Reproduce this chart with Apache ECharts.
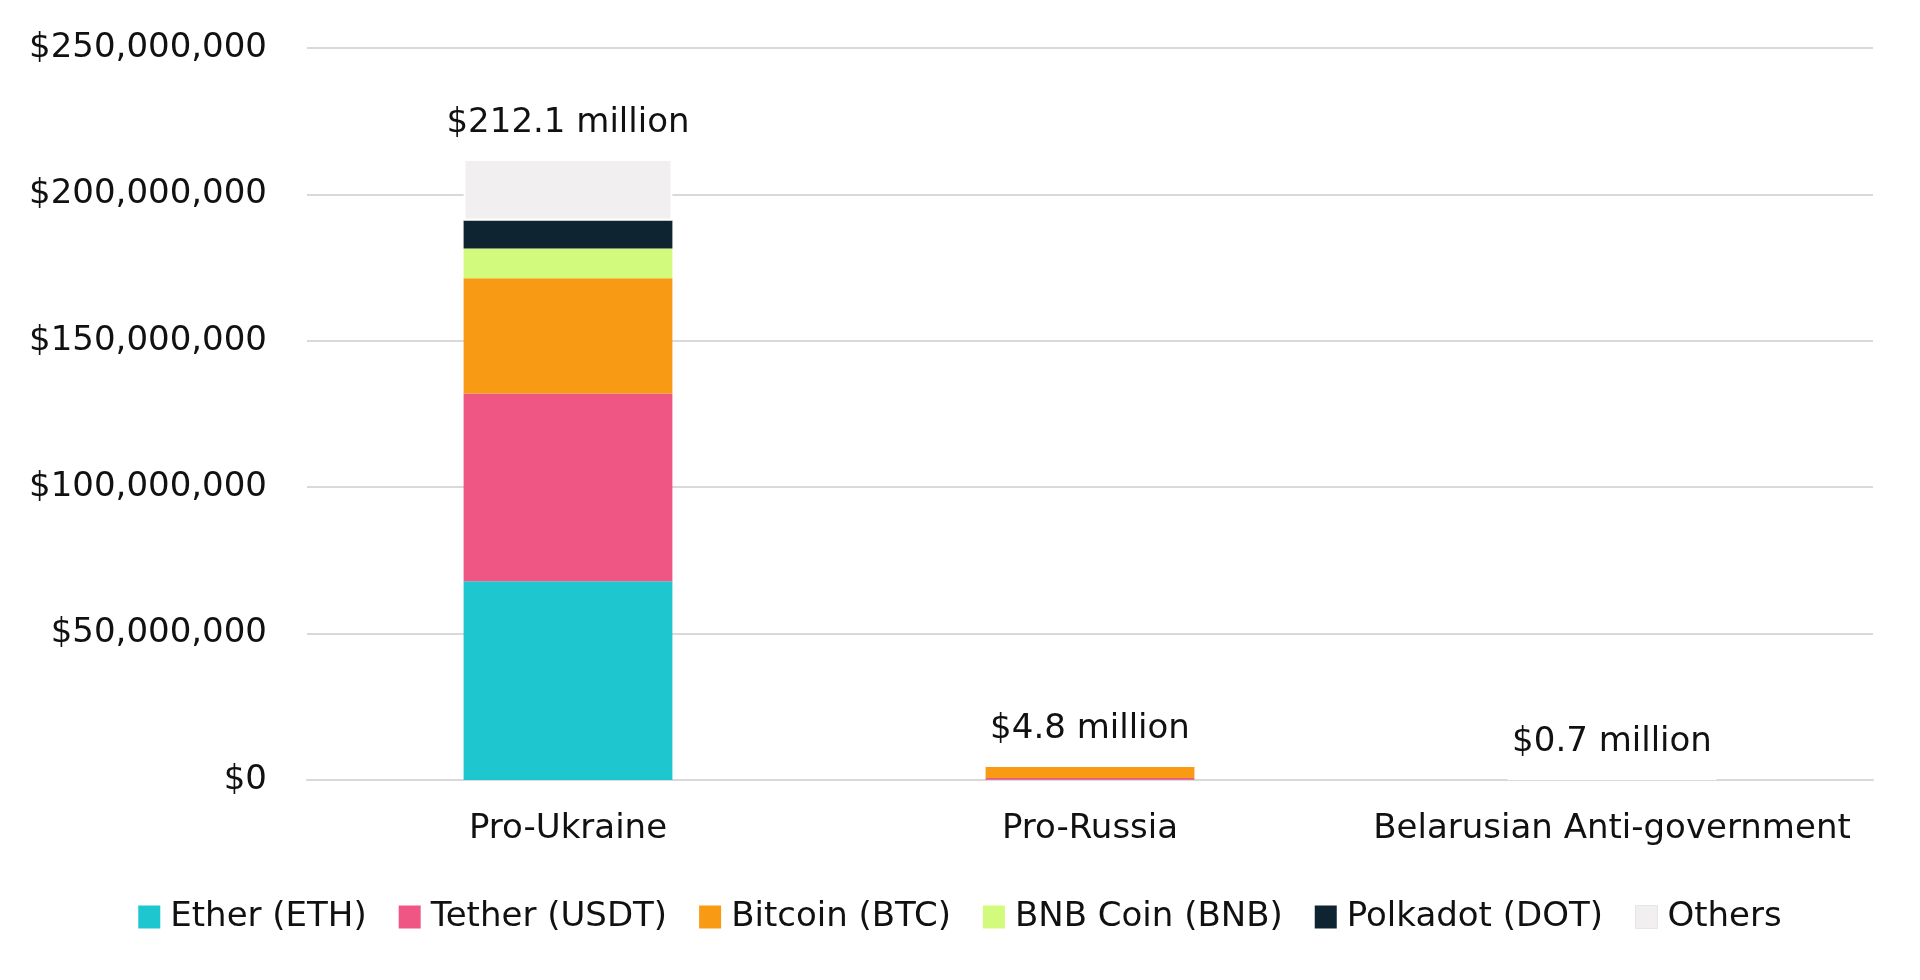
<!DOCTYPE html>
<html>
<head>
<meta charset="utf-8">
<title>Crypto donations</title>
<script src="https://cdn.jsdelivr.net/npm/echarts@6/dist/echarts.min.js"></script>
<style>
  html, body { margin: 0; padding: 0; background: #fff; }
  #chart { width: 1920px; height: 980px; }
</style>
</head>
<body>
<div id="chart"></div>
<script>
// categories on the x axis
const categories = ['Pro-Ukraine', 'Pro-Russia', 'Belarusian Anti-government']

// values per coin, in millions of USD
const eth = [67.9, 0.1, 0]
const usdt = [64.1, 0.6, 0]
const btc = [39.4, 4.1, 0]
const bnb = [10.1, 0, 0]
const dot = [9.6, 0, 0]
const others = [21.0, 0, 0.7]

// total labels shown above each bar
const totalLabels = ['$212.1 million', '$4.8 million', '$0.7 million']

const FONT = '"DejaVu Sans", sans-serif'
const TEXT = '#111'
const SIZE = 34

const coins = [
    {name: 'Ether (ETH)', data: eth, color: '#1ec6d0'},
    {name: 'Tether (USDT)', data: usdt, color: '#ef5683'},
    {name: 'Bitcoin (BTC)', data: btc, color: '#f99a14'},
    {name: 'BNB Coin (BNB)', data: bnb, color: '#d2fb7d'},
    {name: 'Polkadot (DOT)', data: dot, color: '#0e2431'},
    {name: 'Others', data: others, color: '#f1eff0'},
]

function fmtAxis(v) {
    return '$' + Math.round(v * 1e6).toLocaleString('en-US')
}

const series = coins.map(c => {
    const s = {
        name: c.name,
        type: 'bar',
        stack: 'total',
        barWidth: '40%',
        data: c.data,
        itemStyle: {color: c.color},
        emphasis: {disabled: true}
    }
    if (c.name === 'Others') {
        s.itemStyle.borderColor = '#ffffff'
        s.itemStyle.borderWidth = 2
        s.label = {
            show: true,
            position: 'top',
            distance: 19,
            fontFamily: FONT,
            fontSize: SIZE,
            color: TEXT,
            formatter: p => totalLabels[p.dataIndex]
        }
    }
    return s
})

const chart = echarts.init(document.getElementById('chart'))
chart.setOption({
    animation: false,
    backgroundColor: '#fff',
    grid: {left: 307, right: 47, top: 48, bottom: 200, containLabel: false},
    legend: {
        bottom: 41,
        left: 'center',
        itemWidth: 22,
        itemHeight: 23,
        itemGap: 32,
        icon: 'rect',
        textStyle: {fontFamily: FONT, fontSize: SIZE, color: TEXT, padding: [0, 0, 0, 5]},
        data: coins.map(c => ({
            name: c.name,
            itemStyle: c.name === 'Others' ? {borderColor: '#e6e6e6', borderWidth: 1} : {}
        }))
    },
    xAxis: {
        type: 'category',
        data: categories,
        axisLine: {lineStyle: {color: '#d9d9d9', width: 2}},
        axisTick: {show: false},
        axisLabel: {fontFamily: FONT, fontSize: SIZE, color: TEXT, margin: 32, interval: 0}
    },
    yAxis: {
        type: 'value',
        min: 0,
        max: 250,
        interval: 50,
        axisLine: {show: false},
        axisTick: {show: false},
        splitLine: {lineStyle: {color: '#d9d9d9', width: 2}},
        axisLabel: {fontFamily: FONT, fontSize: SIZE, color: TEXT, margin: 40, formatter: fmtAxis}
    },
    series: series
})
</script>
</body>
</html>
